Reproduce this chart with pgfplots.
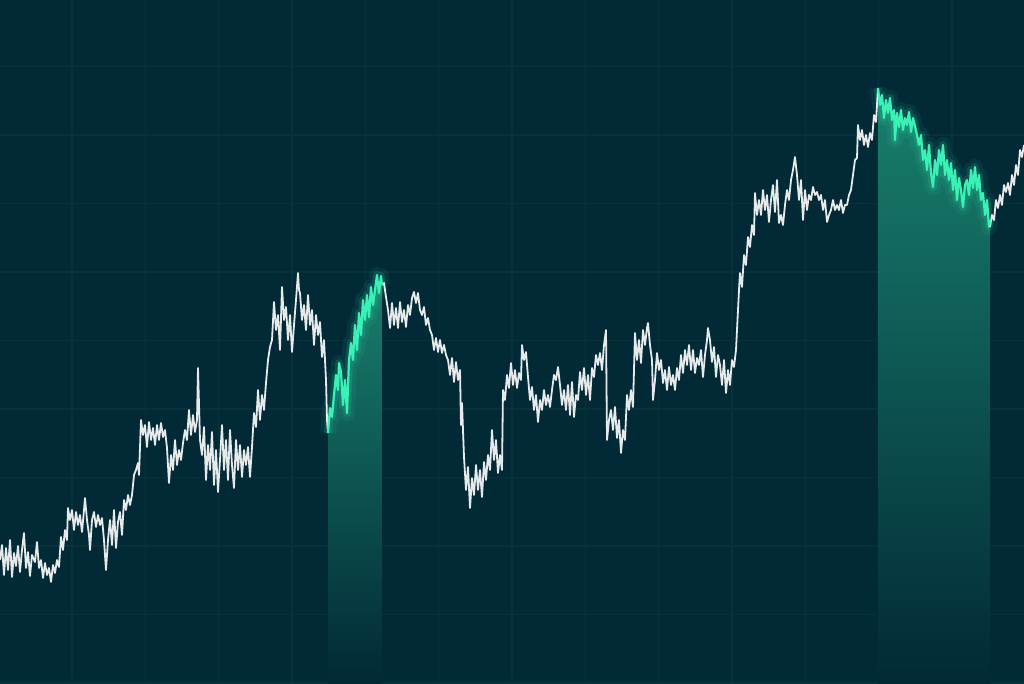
\documentclass[border=0pt]{standalone}
\usepackage{pgfplots}
\usepackage{pgfplotstable}
\pgfplotsset{compat=1.18}
\definecolor{bg}{RGB}{2,41,54}
\definecolor{gridc}{RGB}{7,50,60}
\definecolor{mint}{RGB}{58,242,182}
\definecolor{filltop}{RGB}{24,128,108}
\definecolor{fillmid}{RGB}{11,84,77}
\pgfplotstableread{
x y
0 560
2 545
4 575
6 548
8 570
10 540
12 577
14 553
16 566
18 546
20 572
22 550
24 533
26 568
28 552
30 576
32 555
35 562
37 542
39 568
41 560
43 578
45 563
47 575
49 568
51 582
53 565
55 573
57 560
59 567
61 537
63 550
65 530
67 540
68 508
70 520
72 510
74 530
76 512
78 525
80 515
82 532
84 510
85 498
87 520
89 535
90 550
92 520
94 512
96 527
98 515
100 525
102 518
104 540
106 570
108 540
110 520
112 545
114 510
116 548
118 522
120 512
122 535
124 500
126 510
128 495
130 505
132 495
134 475
136 470
138 463
139 475
141 420
143 435
145 425
147 447
149 422
151 440
153 428
155 445
157 425
159 440
161 423
163 437
165 430
167 448
169 483
171 455
173 470
175 440
177 465
179 450
181 460
183 443
185 430
187 440
189 410
191 435
193 415
195 432
197 420
198 368
200 440
202 455
204 427
206 480
208 445
210 470
212 432
214 485
216 450
218 492
220 460
222 425
224 470
226 440
228 480
230 430
232 465
234 488
236 440
238 470
240 445
242 477
244 450
246 465
248 447
250 477
252 447
254 413
256 427
258 390
260 420
262 395
264 410
266 383
268 360
270 347
272 340
274 302
276 330
278 315
280 350
282 287
284 320
286 307
288 340
290 315
292 352
294 325
296 300
298 273
299 290
300 293
302 320
304 305
306 330
308 295
310 325
312 310
314 345
316 315
318 335
320 322
322 357
324 340
326 380
327 420
328 433
}\whiteA
\pgfplotstableread{
x y
328 433
330 408
332 417
334 395
336 375
338 390
339 363
341 372
343 405
345 380
347 413
349 360
351 343
353 360
355 325
357 350
359 313
361 335
363 300
365 320
367 295
369 317
371 287
373 305
375 290
377 275
379 293
381 276
382 285
}\greenA
\pgfplotstableread{
x y
382 285
384 283
386 297
388 310
390 328
392 303
394 325
396 308
398 328
400 302
402 322
404 310
406 327
408 305
410 315
412 298
414 292
416 303
418 293
420 310
422 315
424 307
426 325
428 318
430 330
432 335
434 350
436 338
438 352
440 340
442 353
444 345
446 355
448 360
450 375
452 358
454 382
456 362
458 380
460 370
461 425
462 403
464 457
466 490
468 467
470 508
472 478
474 495
476 465
478 490
480 470
482 497
484 462
486 480
488 455
490 470
492 430
494 460
496 440
498 473
500 455
502 470
503 390
505 400
507 375
509 388
511 363
513 385
515 370
517 388
519 373
521 380
522 345
524 360
526 352
528 377
530 400
532 387
534 410
536 395
538 422
540 400
542 410
544 390
546 405
548 395
550 407
552 390
554 375
556 380
558 367
560 385
562 405
564 390
566 410
568 385
570 415
572 382
574 417
576 395
578 400
580 372
582 390
584 368
586 395
588 375
590 400
592 368
594 377
596 355
598 365
600 353
602 370
604 345
606 330
607 440
609 420
611 410
613 430
615 407
617 438
619 420
621 453
623 430
625 440
627 395
629 410
631 390
633 407
635 333
637 360
639 340
641 363
643 330
645 345
647 328
648 323
650 345
652 360
653 400
655 380
657 353
659 370
661 360
663 383
665 370
667 390
669 367
671 385
673 375
675 390
677 368
679 380
681 355
683 373
685 350
687 365
689 345
691 370
693 350
695 373
697 358
699 365
701 350
703 377
705 355
707 340
708 328
710 340
712 362
714 347
716 377
718 355
720 365
722 385
724 360
726 393
728 370
730 385
732 360
734 367
736 350
738 310
739 290
740 273
742 287
744 255
746 265
748 237
750 247
752 225
754 235
755 193
757 215
759 200
761 215
763 190
765 210
767 195
769 222
771 200
773 185
775 212
777 180
779 223
781 215
783 225
785 205
787 190
789 200
791 180
793 170
795 157
797 175
799 200
801 180
803 220
805 190
807 210
809 195
811 200
813 187
815 195
817 192
819 200
821 195
823 210
825 200
827 222
829 215
831 210
833 200
835 210
837 205
839 210
841 200
843 213
845 205
847 205
849 195
851 190
853 175
855 160
857 158
858 125
860 140
862 130
864 145
866 135
868 147
870 133
872 140
874 115
876 122
878 88
}\whiteB
\pgfplotstableread{
x y
878 88
880 105
882 95
884 118
886 100
888 113
890 98
892 120
894 110
895 140
897 113
899 127
901 110
903 130
905 118
907 125
909 112
911 132
913 118
915 126
917 135
919 145
921 135
923 160
925 150
927 170
929 145
931 173
933 187
935 160
937 175
939 150
941 165
943 145
945 175
947 160
949 180
951 163
953 190
955 170
957 200
959 178
961 190
963 207
965 185
967 180
969 195
971 170
973 188
975 167
977 190
979 175
981 200
983 193
985 215
987 200
989 227
990 220
}\greenB
\pgfplotstableread{
x y
990 227
992 215
994 220
996 200
998 208
1000 195
1002 205
1004 185
1006 192
1008 183
1010 195
1012 175
1014 185
1016 165
1018 175
1020 150
1022 157
1024 145
}\whiteC
\begin{document}
\begin{tikzpicture}
\begin{axis}[
  name=ax,
  width=512pt, height=342pt, scale only axis,
  xmin=0, xmax=1024, ymin=0, ymax=684, y dir=reverse,
  axis background/.style={fill=bg},
  axis line style={draw=none},
  xtick={-1.3,72,145.3,218.6,292,365.3,438.6,512,585.3,658.6,732,805.3,878.6,952,1025.3},
  ytick={66.5,135,203.5,272,340.5,409,477.5,546,614.5,683},
  xticklabels={}, yticklabels={},
  major tick length=0pt,
  grid=major,
  major grid style={draw=gridc, line width=0.6pt},
  line join=round,
]
% gradient fills
\addplot[draw=none, shade, top color=filltop, middle color=fillmid, bottom color=bg] table {\greenA} -- (axis cs:382,684) -- (axis cs:328,684) -- cycle;
\addplot[draw=none, shade, top color=filltop, middle color=fillmid, bottom color=bg] table {\greenB} -- (axis cs:990,684) -- (axis cs:878,684) -- cycle;
% glow
\addplot[mint, line width=8pt, opacity=0.07] table {\greenA};
\addplot[mint, line width=4pt, opacity=0.14] table {\greenA};
\addplot[mint, line width=8pt, opacity=0.07] table {\greenB};
\addplot[mint, line width=4pt, opacity=0.14] table {\greenB};
% lines
\addplot[white!90!bg, line width=0.9pt] table {\whiteA};
\addplot[white!90!bg, line width=0.9pt] table {\whiteB};
\addplot[white!90!bg, line width=0.9pt] table {\whiteC};
\addplot[mint, line width=1.1pt] table {\greenA};
\addplot[mint, line width=1.1pt] table {\greenB};
\end{axis}
\pgfresetboundingbox
\useasboundingbox (ax.south west) rectangle (ax.north east);
\end{tikzpicture}
\end{document}
